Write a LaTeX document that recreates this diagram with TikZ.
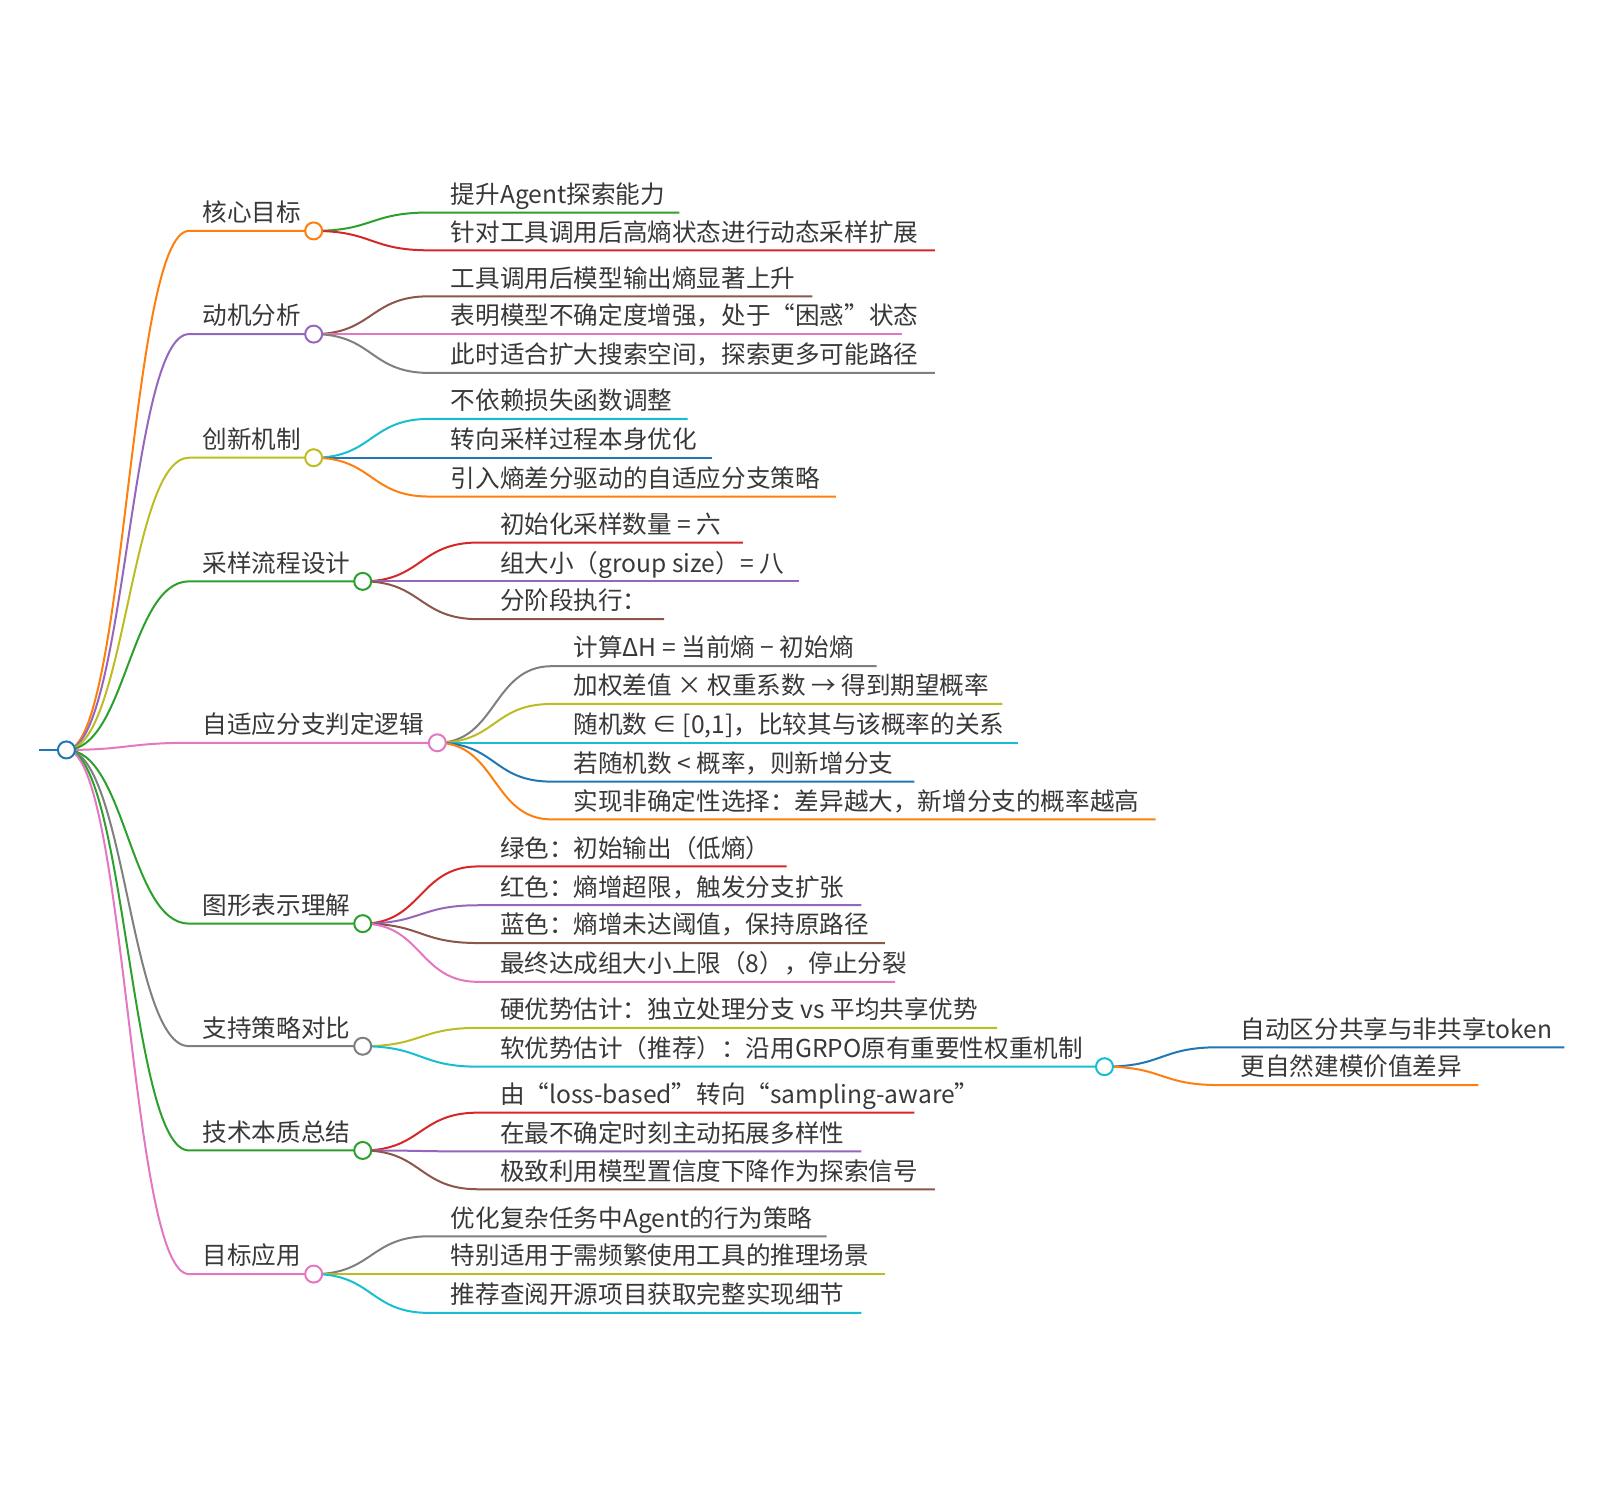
\documentclass[tikz,border=0pt]{standalone}
\usepackage{fontspec}
\setmainfont{Noto Sans CJK SC}
\usetikzlibrary{backgrounds}
\definecolor{cO}{HTML}{FF7F0E}\definecolor{cP}{HTML}{9467BD}\definecolor{cY}{HTML}{BCBD22}
\definecolor{cG}{HTML}{2CA02C}\definecolor{cK}{HTML}{E377C2}\definecolor{cA}{HTML}{7F7F7F}
\definecolor{cR}{HTML}{D62728}\definecolor{cB}{HTML}{8C564B}\definecolor{cC}{HTML}{17BECF}
\definecolor{cU}{HTML}{1F77B4}
\tikzset{x=0.511pt,y=-0.511pt,
 dot/.style={circle,draw=#1,fill=white,line width=1pt,minimum size=8.5pt,inner sep=0pt},
 txt/.style={anchor=base west,inner sep=0pt,font=\fontsize{12.3pt}{14pt}\selectfont,text=black!78},
 ln/.style={draw=#1,line width=1pt}}
\newcommand\kid[8]{% parent, name, y, xs, xe, color, textoffset, text
 \coordinate (#2-s) at (#4,#3);\coordinate (#2-e) at (#5,#3);
 \begin{scope}[on background layer]
 \draw[ln=#6] (#1.center) .. controls +(58,0) and +(-58,0) .. (#2-s) -- (#2-e);
 \end{scope}
 \node[txt] (#2) at ([shift={(#7,-9)}]#2-s) {#8};}
\begin{document}
\begin{tikzpicture}
\useasboundingbox (0,0) rectangle (1566,1464);
\node[dot=cU] (root) at (65,734) {};
\coordinate (rl) at (38,734);
\begin{scope}[on background layer]\draw[ln=cU] (rl) -- (root);\end{scope}
\newcommand\lvl[6]{% name, y, cx, color, text, xs
 \node[dot=#4] (#1) at (#3,#2) {};
 \kid{root}{#1t}{#2}{#6}{#3}{#4}{13}{#5}}
\lvl{a}{226}{307}{cO}{核心目标}{185}
\lvl{b}{327}{307}{cP}{动机分析}{185}
\lvl{c}{448}{307}{cY}{创新机制}{185}
\lvl{d}{569}{355}{cG}{采样流程设计}{185}
\lvl{e}{727}{428}{cK}{自适应分支判定逻辑}{185}
\lvl{f}{904}{355}{cG}{图形表示理解}{185}
\lvl{g}{1024}{355}{cA}{支持策略对比}{185}
\lvl{h}{1126}{355}{cG}{技术本质总结}{185}
\lvl{i}{1247}{307}{cK}{目标应用}{185}
\kid{a}{a1}{208}{420}{665}{cG}{21}{提升Agent探索能力}
\kid{a}{a2}{245}{420}{915}{cR}{21}{针对工具调用后高熵状态进行动态采样扩展}
\kid{b}{b1}{290}{420}{795}{cB}{21}{工具调用后模型输出熵显著上升}
\kid{b}{b2}{327}{420}{883}{cK}{21}{表明模型不确定度增强，处于“困惑”状态}
\kid{b}{b3}{365}{420}{915}{cA}{21}{此时适合扩大搜索空间，探索更多可能路径}
\kid{c}{c1}{410}{420}{673}{cC}{21}{不依赖损失函数调整}
\kid{c}{c2}{448}{420}{697}{cU}{21}{转向采样过程本身优化}
\kid{c}{c3}{486}{420}{818}{cO}{21}{引入熵差分驱动的自适应分支策略}
\kid{d}{d1}{531}{468}{727}{cR}{21}{初始化采样数量 = 六}
\kid{d}{d2}{569}{468}{782}{cP}{21}{组大小（group size）= 八}
\kid{d}{d3}{606}{468}{650}{cB}{21}{分阶段执行：}
\kid{e}{e1}{652}{540}{858}{cA}{21}{计算ΔH = 当前熵 − 初始熵}
\kid{e}{e2}{689}{540}{981}{cY}{21}{加权差值 × 权重系数 → 得到期望概率}
\kid{e}{e3}{727}{540}{996}{cC}{21}{随机数 ∈ [0,1]，比较其与该概率的关系}
\kid{e}{e4}{765}{540}{895}{cU}{21}{若随机数 < 概率，则新增分支}
\kid{e}{e5}{802}{540}{1131}{cO}{21}{实现非确定性选择：差异越大，新增分支的概率越高}
\kid{f}{f1}{848}{468}{770}{cR}{21}{绿色：初始输出（低熵）}
\kid{f}{f2}{886}{468}{843}{cP}{21}{红色：熵增超限，触发分支扩张}
\kid{f}{f3}{923}{468}{866}{cB}{21}{蓝色：熵增未达阈值，保持原路径}
\kid{f}{f4}{961}{468}{876}{cK}{21}{最终达成组大小上限（8），停止分裂}
\kid{g}{g1}{1006}{468}{976}{cY}{21}{硬优势估计：独立处理分支 vs 平均共享优势}
\node[dot=cC] (g2c) at (1081,1044) {};
\kid{g}{g2}{1044}{468}{1073}{cC}{21}{软优势估计（推荐）：沿用GRPO原有重要性权重机制}
\kid{g2c}{g21}{1025}{1193}{1531}{cU}{21}{自动区分共享与非共享token}
\kid{g2c}{g22}{1062}{1193}{1447}{cO}{21}{更自然建模价值差异}
\kid{h}{h1}{1089}{468}{895}{cR}{21}{由“loss-based”转向“sampling-aware”}
\kid{h}{h2}{1127}{468}{843}{cP}{21}{在最不确定时刻主动拓展多样性}
\kid{h}{h3}{1164}{468}{915}{cB}{21}{极致利用模型置信度下降作为探索信号}
\kid{i}{i1}{1210}{420}{809}{cA}{21}{优化复杂任务中Agent的行为策略}
\kid{i}{i2}{1247}{420}{866}{cY}{21}{特别适用于需频繁使用工具的推理场景}
\kid{i}{i3}{1285}{420}{843}{cC}{21}{推荐查阅开源项目获取完整实现细节}
\end{tikzpicture}
\end{document}
